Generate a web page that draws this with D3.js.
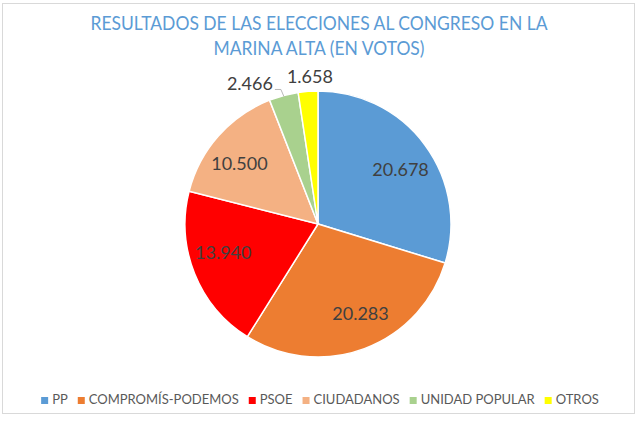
<!DOCTYPE html>
<html>
<head>
<meta charset="utf-8">
<script src="https://cdn.jsdelivr.net/npm/d3@7"></script>
<style>
  body { margin: 0; background: #fff; }
  svg { display: block; font-family: Lato, "Open Sans", sans-serif; }
</style>
</head>
<body>
<div id="chart"></div>
<script>
// data
const parties = ["PP", "COMPROMÍS-PODEMOS", "PSOE", "CIUDADANOS", "UNIDAD POPULAR", "OTROS"];
const votes = [20678, 20283, 13940, 10500, 2466, 1658];
const colors = ["#5b9bd5", "#ed7d31", "#ff0000", "#f4b183", "#a9d18e", "#ffff00"];
const titleLines = ["RESULTADOS DE LAS ELECCIONES AL CONGRESO EN LA", "MARINA ALTA (EN VOTOS)"];

// layout
const width = 640, height = 421;
const cx = 318, cy = 224, radius = 133;
// label placement tweaks (degrees) roughly mimicking Excel's "best fit"
const labelShift = [3, -5, 5, -4, 0, 0];
const labelRad = 99;

const fmt = d3.formatLocale({ decimal: ",", thousands: ".", grouping: [3], currency: ["", ""] }).format(",d");

const svg = d3.select("#chart").append("svg")
    .attr("width", width)
    .attr("height", height);

// frame
svg.append("rect")
    .attr("x", 2.5).attr("y", 3.5)
    .attr("width", 632).attr("height", 410)
    .attr("fill", "#fff")
    .attr("stroke", "#d9d9d9");

// title (squeezed a bit to mimic the narrow Calibri look)
const title = svg.append("text")
    .attr("text-anchor", "middle")
    .attr("fill", "#5b9bd5")
    .style("font-size", "20px");
const tspans = title.selectAll("tspan")
    .data(titleLines)
    .enter().append("tspan")
    .attr("x", 319)
    .attr("y", (d, i) => 30 + i * 24.5)
    .text(d => d);
const squeeze = 457 / tspans.nodes()[0].getComputedTextLength();
tspans.each(function () {
    const w = this.getComputedTextLength();
    d3.select(this).attr("textLength", w * squeeze).attr("lengthAdjust", "spacingAndGlyphs");
});

const data = parties.map((p, i) => ({ party: p, value: votes[i], color: colors[i], i: i }));

const pie = d3.pie().sort(null).value(d => d.value);
const arcs = pie(data);
const arc = d3.arc().innerRadius(0).outerRadius(radius);

const g = svg.append("g").attr("transform", `translate(${cx},${cy})`);

g.selectAll("path.slice")
    .data(arcs)
    .enter().append("path")
    .attr("class", "slice")
    .attr("d", arc)
    .attr("fill", d => d.data.color)
    .attr("stroke", "#fff")
    .attr("stroke-width", 1.5);

// labels
const toXY = (ang, r) => [Math.sin(ang) * r, -Math.cos(ang) * r];

arcs.forEach((a, i) => {
    const mid = (a.startAngle + a.endAngle) / 2;
    const share = a.data.value / d3.sum(votes);
    if (share > 0.05) {
        const [x, y] = toXY(mid + labelShift[i] * Math.PI / 180, labelRad);
        g.append("text")
            .attr("x", x).attr("y", y)
            .attr("dy", "0.35em")
            .attr("text-anchor", "middle")
            .attr("fill", "#404040")
            .style("font-size", "18px")
            .text(fmt(a.data.value));
    } else if (i === 4) {
        // outside label with a short leader line
        const p0 = toXY(mid, radius - 1);
        const p1 = [p0[0] - 3, p0[1] - 7];
        const p2 = [p1[0] - 6, p1[1]];
        g.append("polyline")
            .attr("points", [p0, p1, p2].map(p => p.join(",")).join(" "))
            .attr("fill", "none")
            .attr("stroke", "#a6a6a6")
            .attr("stroke-width", 0.8);
        g.append("text")
            .attr("x", p2[0] - 2).attr("y", p2[1] - 6)
            .attr("dy", "0.35em")
            .attr("text-anchor", "end")
            .attr("fill", "#404040")
            .style("font-size", "18px")
            .text(fmt(a.data.value));
    } else {
        const [x, y] = toXY(mid, radius + 15);
        g.append("text")
            .attr("x", x + 3).attr("y", y)
            .attr("dy", "0.35em")
            .attr("text-anchor", "middle")
            .attr("fill", "#404040")
            .style("font-size", "18px")
            .text(fmt(a.data.value));
    }
});

// legend
const legend = svg.append("g").attr("class", "legend");
let lx = 0;
data.forEach(d => {
    const item = legend.append("g").attr("transform", `translate(${lx},0)`);
    item.append("rect")
        .attr("x", 0).attr("y", -7)
        .attr("width", 7).attr("height", 7)
        .attr("fill", d.color);
    const t = item.append("text")
        .attr("x", 11).attr("y", 0)
        .attr("fill", "#595959")
        .style("font-size", "13px")
        .text(d.party);
    lx += 11 + t.node().getComputedTextLength() + 10;
});
lx -= 10;
legend.attr("transform", `translate(${(width - lx) / 2},404)`);
</script>
</body>
</html>
